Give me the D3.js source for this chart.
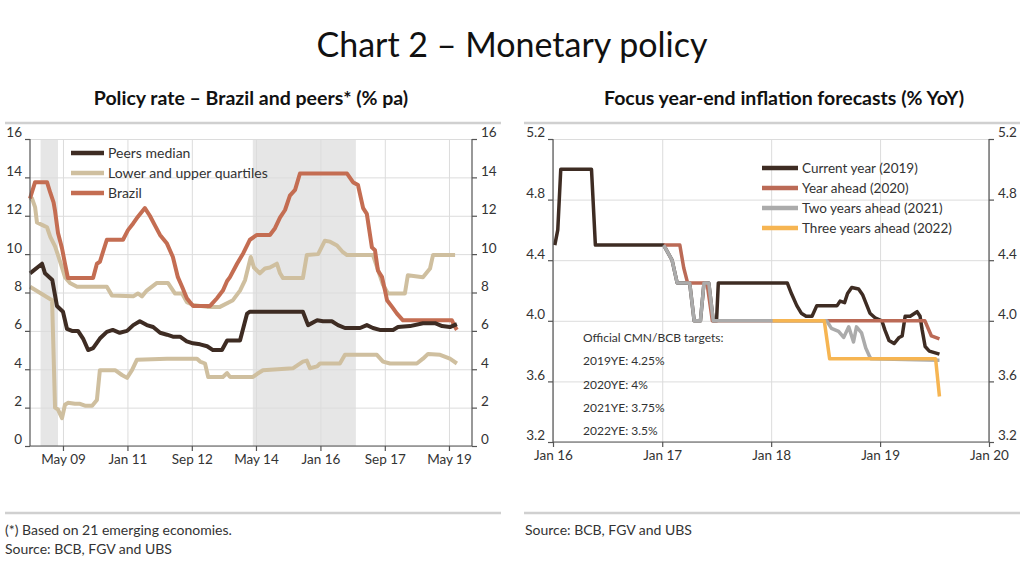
<!DOCTYPE html>
<html>
<head>
<meta charset="utf-8">
<script src="https://cdn.jsdelivr.net/npm/d3@7"></script>
<style>
  body { margin: 0; background: #fff; }
  svg text { font-family: Lato, "Open Sans", sans-serif; fill: #333; }
  .grid line { stroke: #dcdcdc; stroke-width: 1; }
  .grid .domain { display: none; }
  .axis .domain, .axis line { stroke: #555; stroke-width: 1.2; }
  .axis text { font-size: 13.5px; fill: #333; }
  .line { fill: none; stroke-linejoin: round; }
</style>
</head>
<body>
<div id="wrapper"></div>
<script>

// ---- data: policy rate panel (% pa)
const brazilRate = [
  ["2008-06-23", 12.9], ["2008-08-10", 13.75], ["2008-12-01", 13.75], ["2009-01-01", 13.2],
  ["2009-02-01", 12.7], ["2009-02-15", 12.25], ["2009-03-15", 11.1], ["2009-04-22", 10.3],
  ["2009-05-20", 9.5], ["2009-06-17", 8.75], ["2010-02-10", 8.75], ["2010-03-18", 9.5],
  ["2010-04-15", 9.6], ["2010-06-20", 10.75], ["2010-11-20", 10.75], ["2011-01-06", 11.25],
  ["2011-02-24", 11.6], ["2011-04-10", 11.95], ["2011-06-15", 12.4], ["2011-08-01", 12.0],
  ["2011-09-18", 11.5], ["2011-11-05", 11.0], ["2012-01-10", 10.55], ["2012-03-06", 9.85],
  ["2012-04-22", 8.8], ["2012-06-01", 8.3], ["2012-07-16", 7.7], ["2012-09-13", 7.3],
  ["2013-02-21", 7.3], ["2013-04-27", 7.7], ["2013-06-22", 8.1], ["2013-08-01", 8.6],
  ["2013-08-28", 8.8], ["2013-11-03", 9.5], ["2014-01-01", 10.05], ["2014-03-05", 10.75],
  ["2014-05-10", 11.0], ["2014-09-10", 11.0], ["2014-10-28", 11.35], ["2014-12-14", 11.9],
  ["2015-01-31", 12.3], ["2015-03-18", 13.05], ["2015-05-06", 13.35], ["2015-06-21", 14.2],
  ["2016-09-09", 14.2], ["2016-11-04", 13.75], ["2016-12-21", 13.6], ["2017-02-08", 12.4],
  ["2017-03-15", 12.1], ["2017-05-02", 10.35], ["2017-05-31", 10.2], ["2017-06-28", 9.15],
  ["2017-08-06", 8.8], ["2017-09-03", 8.1], ["2017-09-22", 7.6], ["2017-11-09", 7.25],
  ["2017-12-25", 6.9], ["2018-02-20", 6.55], ["2019-05-29", 6.55], ["2019-06-28", 6.2],
  ["2019-07-15", 6.05]
]

const peersMedian = [
  ["2008-06-23", 9.0], ["2008-10-15", 9.5], ["2008-11-12", 9.0], ["2009-01-20", 8.65],
  ["2009-03-05", 7.3], ["2009-05-01", 7.0], ["2009-06-08", 6.1], ["2009-07-25", 6.0],
  ["2009-09-20", 6.0], ["2009-11-07", 5.6], ["2009-12-25", 5.0], ["2010-02-10", 5.1],
  ["2010-04-15", 5.6], ["2010-06-20", 5.95], ["2010-08-15", 6.05], ["2010-10-20", 5.9],
  ["2010-12-28", 6.0], ["2011-02-25", 6.3], ["2011-04-28", 6.5], ["2011-07-03", 6.3],
  ["2011-09-01", 6.2], ["2011-11-06", 5.9], ["2012-01-10", 5.8], ["2012-03-06", 5.7],
  ["2012-05-12", 5.7], ["2012-07-15", 5.45], ["2012-09-12", 5.35], ["2012-11-18", 5.3],
  ["2013-01-24", 5.2], ["2013-03-20", 5.0], ["2013-06-13", 5.0], ["2013-08-01", 5.5],
  ["2013-12-01", 5.5], ["2014-02-06", 6.9], ["2014-03-05", 7.0], ["2015-07-19", 7.0],
  ["2015-09-06", 6.3], ["2015-12-01", 6.55], ["2016-01-25", 6.5], ["2016-04-18", 6.5],
  ["2016-06-15", 6.3], ["2016-08-20", 6.15], ["2017-01-10", 6.15], ["2017-03-15", 6.3],
  ["2017-05-12", 6.15], ["2017-07-15", 6.05], ["2017-11-18", 6.05], ["2018-01-04", 6.2],
  ["2018-04-28", 6.25], ["2018-08-28", 6.4], ["2018-12-20", 6.4], ["2019-02-25", 6.25],
  ["2019-05-10", 6.2], ["2019-07-15", 6.35]
]

const peersUpperQuartile = [
  ["2008-06-23", 12.8], ["2008-07-12", 12.9], ["2008-08-10", 12.45], ["2008-08-28", 11.65],
  ["2008-10-25", 11.5], ["2008-12-01", 11.4], ["2009-01-01", 10.9], ["2009-02-15", 10.4],
  ["2009-03-15", 9.95], ["2009-04-22", 9.3], ["2009-05-20", 8.8], ["2009-07-06", 8.5],
  ["2009-09-11", 8.3], ["2010-06-20", 8.3], ["2010-08-07", 7.85], ["2011-02-25", 7.8],
  ["2011-04-10", 7.95], ["2011-05-18", 7.8], ["2011-07-03", 8.1], ["2011-10-07", 8.5],
  ["2012-01-19", 8.5], ["2012-03-25", 7.95], ["2012-06-01", 7.95], ["2012-07-16", 7.5],
  ["2012-09-13", 7.35], ["2013-01-24", 7.25], ["2013-05-25", 7.25], ["2013-09-25", 7.6],
  ["2013-12-01", 8.1], ["2014-01-18", 8.65], ["2014-03-13", 9.85], ["2014-04-12", 9.3],
  ["2014-06-07", 9.0], ["2014-07-25", 9.25], ["2014-09-10", 9.3], ["2014-11-15", 9.5],
  ["2014-12-15", 9.0], ["2015-01-12", 8.75], ["2015-07-19", 8.75], ["2015-08-25", 9.95],
  ["2015-12-10", 10.0], ["2016-02-12", 10.7], ["2016-04-01", 10.65], ["2016-06-06", 10.45],
  ["2016-08-01", 10.1], ["2016-09-09", 9.95], ["2017-05-12", 9.95], ["2017-08-15", 8.4],
  ["2017-10-01", 7.95], ["2018-03-10", 7.95], ["2018-04-07", 8.9], ["2018-08-28", 8.8],
  ["2018-11-03", 9.25], ["2018-12-01", 9.95], ["2019-06-28", 9.95]
]

const peersLowerQuartile = [
  ["2008-06-23", 8.3], ["2009-01-18", 7.6], ["2009-02-15", 2.0], ["2009-03-15", 1.9],
  ["2009-04-22", 1.45], ["2009-05-20", 2.15], ["2009-06-17", 2.25], ["2009-08-22", 2.2],
  ["2009-10-09", 2.2], ["2009-11-25", 2.1], ["2010-02-01", 2.1], ["2010-03-18", 2.4],
  ["2010-04-15", 3.95], ["2010-09-06", 3.95], ["2010-11-10", 3.7], ["2010-12-28", 3.55],
  ["2011-02-13", 3.95], ["2011-04-01", 4.5], ["2012-01-10", 4.55], ["2012-10-20", 4.55],
  ["2012-11-18", 4.4], ["2013-01-04", 4.3], ["2013-02-03", 3.6], ["2013-06-22", 3.6],
  ["2013-08-01", 3.8], ["2013-08-28", 3.6], ["2014-04-03", 3.6], ["2014-05-10", 3.75],
  ["2014-07-06", 3.95], ["2015-04-15", 4.05], ["2015-07-19", 4.4], ["2015-08-25", 4.45],
  ["2015-09-24", 4.05], ["2015-12-01", 4.15], ["2015-12-28", 4.3], ["2016-07-03", 4.3],
  ["2016-08-20", 4.75], ["2017-06-18", 4.75], ["2017-08-15", 4.4], ["2017-10-20", 4.3],
  ["2018-07-01", 4.3], ["2018-08-28", 4.55], ["2018-10-15", 4.8], ["2019-02-06", 4.75],
  ["2019-05-10", 4.55], ["2019-07-15", 4.3]
]

const recessionPeriods = [["2008-10-01", "2009-03-15"], ["2014-04-01", "2016-12-01"]]
const rateTickDates = ["2009-05-01", "2011-01-01", "2012-09-01", "2014-05-01", "2016-01-01", "2017-09-01", "2019-05-01"]
const rateTicks = [0, 2, 4, 6, 8, 10, 12, 14, 16]

// ---- data: Focus year-end inflation forecasts (% YoY)
const currentYear2019 = [
  ["2016-01-07", 4.5], ["2016-01-17", 4.6], ["2016-01-27", 5.0], ["2016-05-09", 5.0],
  ["2016-05-22", 4.5], ["2017-01-06", 4.5], ["2017-01-20", 4.45], ["2017-02-03", 4.4],
  ["2017-02-20", 4.25], ["2017-04-03", 4.25], ["2017-04-18", 4.0], ["2017-05-09", 4.0],
  ["2017-05-21", 4.25], ["2017-06-06", 4.25], ["2017-06-21", 4.0], ["2017-07-02", 4.0],
  ["2017-07-08", 4.25], ["2018-02-24", 4.25], ["2018-03-10", 4.18], ["2018-03-28", 4.1],
  ["2018-04-12", 4.05], ["2018-04-28", 4.03], ["2018-05-18", 4.03], ["2018-06-03", 4.1],
  ["2018-08-10", 4.1], ["2018-08-20", 4.13], ["2018-09-04", 4.12], ["2018-09-14", 4.18],
  ["2018-09-28", 4.22], ["2018-10-21", 4.21], ["2018-11-04", 4.17], ["2018-11-14", 4.12],
  ["2018-11-28", 4.05], ["2018-12-15", 4.02], ["2019-01-07", 4.0], ["2019-01-17", 3.94],
  ["2019-01-31", 3.87], ["2019-02-17", 3.85], ["2019-03-06", 3.89], ["2019-03-16", 3.9],
  ["2019-03-26", 4.03], ["2019-04-12", 4.03], ["2019-05-05", 4.06], ["2019-05-15", 4.03],
  ["2019-05-22", 3.94], ["2019-06-01", 3.83], ["2019-06-15", 3.8], ["2019-07-19", 3.78]
]

const yearAhead2020 = [
  ["2017-01-06", 4.5], ["2017-03-01", 4.5], ["2017-03-14", 4.35], ["2017-03-27", 4.25],
  ["2017-05-31", 4.25], ["2017-06-18", 4.0], ["2019-05-31", 4.0], ["2019-06-22", 3.9],
  ["2019-07-19", 3.88]
]

const twoYearsAhead2021 = [
  ["2017-01-06", 4.5], ["2017-01-20", 4.45], ["2017-02-03", 4.4], ["2017-02-20", 4.25],
  ["2017-04-03", 4.25], ["2017-04-18", 4.0], ["2017-05-09", 4.0], ["2017-05-21", 4.25],
  ["2017-06-06", 4.25], ["2017-06-21", 4.0], ["2018-07-06", 4.0], ["2018-07-22", 3.95],
  ["2018-08-15", 3.93], ["2018-09-01", 3.89], ["2018-09-18", 3.96], ["2018-10-04", 3.86],
  ["2018-10-14", 3.96], ["2018-10-31", 3.92], ["2018-11-14", 3.82], ["2018-11-28", 3.76],
  ["2018-12-01", 3.75], ["2019-07-19", 3.74]
]

const threeYearsAhead2022 = [
  ["2018-01-06", 4.0], ["2018-06-28", 4.0], ["2018-07-16", 3.75], ["2019-07-06", 3.75],
  ["2019-07-19", 3.5]
]

const inflationTickDates = ["2016-01-01", "2017-01-01", "2018-01-01", "2019-01-01", "2020-01-01"]
const inflationTicks = [3.2, 3.6, 4.0, 4.4, 4.8, 5.2]
const targetLines = ["Official CMN/BCB targets:", "2019YE: 4.25%", "2020YE: 4%", "2021YE: 3.75%", "2022YE: 3.5%"]

const colors = {
  brazil: "#c46d52",
  median: "#3e2c23",
  quartile: "#cfbf9f",
  current: "#3e2c23",
  yearAhead: "#bb6a56",
  twoYears: "#ababab",
  threeYears: "#f6b552",
}

// ---- canvas
const wrapper = d3.select("#wrapper")
  .append("svg")
    .attr("width", 1024)
    .attr("height", 576)

const parseDate = d3.timeParse("%Y-%m-%d")
const xAccessor = d => parseDate(d[0])
const yAccessor = d => d[1]
const formatMonth = d3.timeFormat("%b %y")

wrapper.append("text")
    .attr("x", 512)
    .attr("y", 57)
    .attr("text-anchor", "middle")
    .style("font-size", "34px")
    .style("fill", "#111")
    .text("Chart 2 \u2013 Monetary policy")

const separators = [[5, 501, 123], [524, 1020, 123], [5, 501, 513], [524, 1020, 513]]
wrapper.selectAll(".sep")
  .data(separators)
  .enter().append("line")
    .attr("class", "sep")
    .attr("x1", d => d[0])
    .attr("x2", d => d[1])
    .attr("y1", d => d[2])
    .attr("y2", d => d[2])
    .attr("stroke", "#d0d0d0")
    .attr("stroke-width", 2.5)

function drawSubtitle(x, text) {
  wrapper.append("text")
      .attr("x", x)
      .attr("y", 105)
      .attr("text-anchor", "middle")
      .style("font-size", "19.5px")
      .style("font-weight", "bold")
      .style("fill", "#111")
      .text(text)
}
drawSubtitle(251, "Policy rate \u2013 Brazil and peers* (% pa)")
drawSubtitle(784, "Focus year-end inflation forecasts (% YoY)")

function drawGrid(bounds, xScale, yScale, dims, xTicks, yTicks) {
  bounds.append("g")
      .attr("class", "grid")
    .call(d3.axisLeft(yScale).tickValues(yTicks).tickSize(-dims.boundedWidth).tickFormat(""))
  bounds.append("g")
      .attr("class", "grid")
    .call(d3.axisBottom(xScale).tickValues(xTicks).tickSize(dims.boundedHeight).tickFormat(""))
}

function drawFrame(bounds, xScale, yScale, dims, xTicks, yTicks, yFormat) {
  // y labels sit just above their tick, as in the original
  const yLeft = bounds.append("g")
      .attr("class", "axis")
    .call(d3.axisLeft(yScale).tickValues(yTicks).tickSize(5).tickPadding(3).tickFormat(yFormat))
  const yRight = bounds.append("g")
      .attr("class", "axis")
      .attr("transform", `translate(${dims.boundedWidth}, 0)`)
    .call(d3.axisRight(yScale).tickValues(yTicks).tickSize(5).tickPadding(4).tickFormat(yFormat))
  yLeft.selectAll("text").attr("dy", "-0.15em")
  yRight.selectAll("text").attr("dy", "-0.15em")

  bounds.append("g")
      .attr("class", "axis")
      .attr("transform", `translate(0, ${dims.boundedHeight})`)
    .call(d3.axisBottom(xScale).tickValues(xTicks).tickSize(5).tickPadding(3).tickFormat(formatMonth))
  bounds.selectAll(".axis .domain").remove()

  bounds.append("path")
      .attr("d", `M0,0V${dims.boundedHeight}H${dims.boundedWidth}V0`)
      .attr("fill", "none")
      .attr("stroke", "#555")
      .attr("stroke-width", 1.2)
}

function drawLines(bounds, lineGenerator, series) {
  series.forEach(s => {
    bounds.append("path")
        .attr("class", "line")
        .attr("d", lineGenerator(s.data))
        .attr("stroke", s.color)
        .attr("stroke-width", s.width)
  })
}

function drawLegend(bounds, items, x, y0, step, lineLength, fontSize) {
  items.forEach((item, i) => {
    const y = y0 + i * step
    bounds.append("line")
        .attr("x1", x)
        .attr("x2", x + lineLength)
        .attr("y1", y)
        .attr("y2", y)
        .attr("stroke", item.color)
        .attr("stroke-width", 4.5)
    bounds.append("text")
        .attr("x", x + lineLength + 4)
        .attr("y", y)
        .attr("dy", "0.35em")
        .style("font-size", fontSize)
        .text(item.label)
  })
}

// ---- 1. left panel: policy rate
function drawPolicyRate() {
  const dims = { left: 30, top: 139, boundedWidth: 442, boundedHeight: 307 }
  const bounds = wrapper.append("g")
      .attr("transform", `translate(${dims.left}, ${dims.top})`)

  const xScale = d3.scaleTime()
    .domain([parseDate("2008-06-23"), parseDate("2019-12-05")])
    .range([0, dims.boundedWidth])
  const yScale = d3.scaleLinear()
    .domain([0, 16])
    .range([dims.boundedHeight, 0])

  bounds.selectAll(".recession")
    .data(recessionPeriods)
    .enter().append("rect")
      .attr("x", d => xScale(parseDate(d[0])))
      .attr("width", d => xScale(parseDate(d[1])) - xScale(parseDate(d[0])))
      .attr("y", 0)
      .attr("height", dims.boundedHeight)
      .attr("fill", "#e6e6e6")

  const xTicks = rateTickDates.map(parseDate)
  drawGrid(bounds, xScale, yScale, dims, xTicks, rateTicks)

  const lineGenerator = d3.line()
    .x(d => xScale(xAccessor(d)))
    .y(d => yScale(yAccessor(d)))

  drawLines(bounds, lineGenerator, [
    { data: peersUpperQuartile, color: colors.quartile, width: 4 },
    { data: peersLowerQuartile, color: colors.quartile, width: 4 },
    { data: brazilRate, color: colors.brazil, width: 4 },
    { data: peersMedian, color: colors.median, width: 4 },
  ])

  drawFrame(bounds, xScale, yScale, dims, xTicks, rateTicks, d3.format("d"))

  drawLegend(bounds, [
    { label: "Peers median", color: colors.median },
    { label: "Lower and upper quartiles", color: colors.quartile },
    { label: "Brazil", color: colors.brazil },
  ], 41, 14, 20, 33, "14px")
}

// ---- 2. right panel: Focus inflation forecasts
function drawInflation() {
  const dims = { left: 553, top: 139, boundedWidth: 436, boundedHeight: 303 }
  const bounds = wrapper.append("g")
      .attr("transform", `translate(${dims.left}, ${dims.top})`)

  const xScale = d3.scaleTime()
    .domain([parseDate("2016-01-01"), parseDate("2020-01-01")])
    .range([0, dims.boundedWidth])
  const yScale = d3.scaleLinear()
    .domain([3.2, 5.2])
    .range([dims.boundedHeight, 0])

  const xTicks = inflationTickDates.map(parseDate)
  drawGrid(bounds, xScale, yScale, dims, xTicks, inflationTicks)

  const lineGenerator = d3.line()
    .x(d => xScale(xAccessor(d)))
    .y(d => yScale(yAccessor(d)))

  drawLines(bounds, lineGenerator, [
    { data: currentYear2019, color: colors.current, width: 3.5 },
    { data: yearAhead2020, color: colors.yearAhead, width: 3.5 },
    { data: twoYearsAhead2021, color: colors.twoYears, width: 3.5 },
    { data: threeYearsAhead2022, color: colors.threeYears, width: 3.5 },
  ])

  drawFrame(bounds, xScale, yScale, dims, xTicks, inflationTicks, d3.format(".1f"))

  drawLegend(bounds, [
    { label: "Current year (2019)", color: colors.current },
    { label: "Year ahead (2020)", color: colors.yearAhead },
    { label: "Two years ahead (2021)", color: colors.twoYears },
    { label: "Three years ahead (2022)", color: colors.threeYears },
  ], 209, 29, 20, 36, "13.5px")

  bounds.selectAll(".target")
    .data(targetLines)
    .enter().append("text")
      .attr("class", "target")
      .attr("x", 30)
      .attr("y", (d, i) => 199 + i * 23.2)
      .attr("dy", "0.35em")
      .style("font-size", "12px")
      .text(d => d)
}

drawPolicyRate()
drawInflation()

// ---- footnotes
const footnotes = [
  [5, 530, "(*) Based on 21 emerging economies."],
  [5, 549, "Source: BCB, FGV and UBS"],
  [525, 530, "Source: BCB, FGV and UBS"],
]
wrapper.selectAll(".foot")
  .data(footnotes)
  .enter().append("text")
    .attr("class", "foot")
    .attr("x", d => d[0])
    .attr("y", d => d[1])
    .attr("dy", "0.35em")
    .style("font-size", "14px")
    .text(d => d[2])
</script>
</body>
</html>
